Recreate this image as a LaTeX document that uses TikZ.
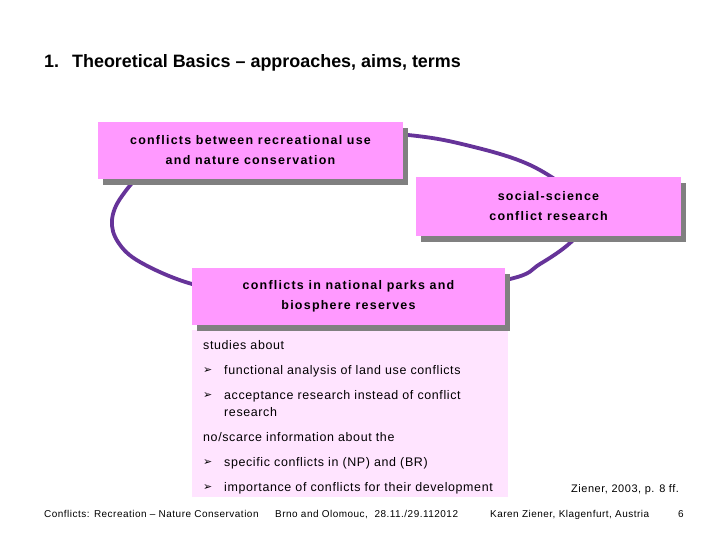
\documentclass[tikz,border=0pt]{standalone}
\usepackage{fontspec}
\setmainfont{Liberation Sans}
\newfontfamily\boxfont[LetterSpace=10]{Liberation Sans}
\newfontfamily\bodyfont[LetterSpace=5]{Liberation Sans}
\newfontfamily\arrowfont{DejaVu Sans}
\usepackage{xcolor}
\usetikzlibrary{shadows}
\definecolor{boxpink}{RGB}{255,153,255}
\definecolor{lightpink}{RGB}{255,228,255}
\definecolor{shadowgray}{RGB}{128,128,128}
\definecolor{ringpurple}{RGB}{102,51,153}

\tikzset{
  pinkbox/.style={fill=boxpink, inner sep=0pt, align=center,
    font=\boxfont\fontsize{12.5}{20}\selectfont\bfseries,
    drop shadow={shadow xshift=5bp, shadow yshift=-6bp, fill=shadowgray, opacity=1}},
  bodytext/.style={anchor=base west, inner sep=0pt, align=left,
    font=\bodyfont\fontsize{12.5}{17}\selectfont},
  bullet/.style={anchor=base west, inner sep=0pt, font=\arrowfont\fontsize{11}{12}\selectfont},
  foottext/.style={anchor=base west, inner sep=0pt, font=\bodyfont\fontsize{10}{11}\selectfont}
}

\begin{document}
\begin{tikzpicture}[x=1bp, y=-1bp]
    \useasboundingbox[fill=white] (0,0) rectangle (720,540);

    % Title
    \node[anchor=base west, inner sep=0pt, font=\fontsize{18}{21}\selectfont\bfseries] (title) at (44,68)
        {1.\hspace{13bp}Theoretical Basics \textendash{} approaches, aims, terms};

    % Ring behind the boxes
    \draw[line width=3.8bp, color=ringpurple] plot[smooth cycle, tension=0.6] coordinates {
        (112,220) (122,196) (150,168) (210,142) (300,129) (408,135) (470,146)
        (530,165) (575,195) (588,220) (570,243) (540,264) (510,279)
        (400,298) (260,296) (192,284) (140,262) (118,242)};

    % Boxes
    \node[pinkbox, minimum width=305bp, minimum height=57bp] (recreation) at (250.5,150.5)
        {conflicts between recreational use\\and nature conservation};
    \node[pinkbox, minimum width=265bp, minimum height=59bp] (research) at (548.5,206.5)
        {social-science\\conflict research};
    \node[fill=lightpink, inner sep=0pt, minimum width=316bp, minimum height=167bp] (studies) at (350,413.5) {};
    \node[pinkbox, minimum width=313bp, minimum height=57bp] (parks) at (348.5,296.5)
        {conflicts in national parks and\\biosphere reserves};

    % Text below the boxes
    \node[bodytext] (about) at (203,349) {studies about};
    \node[bullet] (b1) at (203,373) {➢};
    \node[bodytext] (functional) at (224,374) {functional analysis of land use conflicts};
    \node[bullet] (b2) at (203,398) {➢};
    \node[bodytext] (acceptance) at (224,416) {acceptance research instead of conflict\\research};
    \node[bodytext] (scarce) at (203,441) {no/scarce information about the};
    \node[bullet] (b3) at (203,465) {➢};
    \node[bodytext] (specific) at (224,466) {specific conflicts in (NP) and (BR)};
    \node[bullet] (b4) at (203,490) {➢};
    \node[bodytext] (importance) at (224,491) {importance of conflicts for their development};

    % Source
    \node[foottext, font=\bodyfont\fontsize{11}{12}\selectfont] (source) at (571,492) {Ziener, 2003, p. 8 ff.};

    % Footer
    \node[foottext] (topic) at (44,517) {Conflicts: Recreation \textendash{} Nature Conservation};
    \node[foottext] (place) at (275,517) {Brno and Olomouc,\ \ 28.11./29.112012};
    \node[foottext] (author) at (490,517) {Karen Ziener, Klagenfurt, Austria};
    \node[foottext] (page) at (678,517) {6};
\end{tikzpicture}
\end{document}
